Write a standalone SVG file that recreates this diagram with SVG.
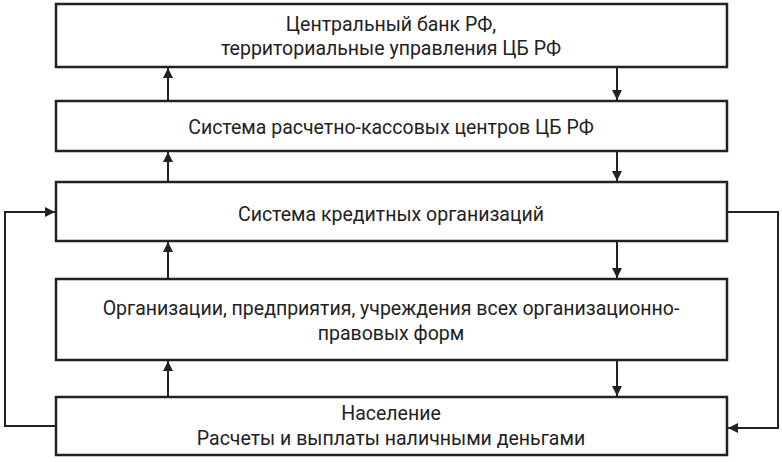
<svg xmlns="http://www.w3.org/2000/svg" width="782" height="462" viewBox="0 0 782 462">
<style>
rect{fill:#fff;stroke:#222;stroke-width:2.5}
.c path{fill:none;stroke:#222;stroke-width:2}
text{font-family:"Roboto","Liberation Sans",sans-serif;font-size:19.5px;fill:#222;text-anchor:middle}
</style>
<defs><marker id="a" viewBox="0 0 10 10" refX="10" refY="5" markerWidth="5" markerHeight="5" orient="auto-start-reverse" markerUnits="strokeWidth"><path d="M0,0 L10,5 L0,10 z" fill="#222"/></marker></defs>
<rect width="782" height="462" fill="#fff" stroke="none" style="stroke:none"/>
<g id="n1"><rect x="56" y="4" width="671" height="63"/><text x="391" y="31">Центральный банк РФ,</text><text x="391" y="55">территориальные управления ЦБ РФ</text></g>
<g id="n2"><rect x="56" y="101" width="671" height="50"/><text x="391" y="134">Система расчетно-кассовых центров ЦБ РФ</text></g>
<g id="n3"><rect x="56" y="182" width="671" height="59"/><text x="391" y="221">Система кредитных организаций</text></g>
<g id="n4"><rect x="56" y="279" width="671" height="81"/><text x="391" y="315">Организации, предприятия, учреждения всех организационно-</text><text x="391" y="340">правовых форм</text></g>
<g id="n5"><rect x="56" y="397" width="671" height="58"/><text x="391" y="420">Население</text><text x="391" y="445">Расчеты и выплаты наличными деньгами</text></g>
<g class="c">
<path d="M168,101 V68" marker-end="url(#a)"/>
<path d="M168,182 V152" marker-end="url(#a)"/>
<path d="M168,279 V242" marker-end="url(#a)"/>
<path d="M168,397 V361" marker-end="url(#a)"/>
<path d="M617,67 V100" marker-end="url(#a)"/>
<path d="M617,151 V181" marker-end="url(#a)"/>
<path d="M617,241 V278" marker-end="url(#a)"/>
<path d="M617,360 V396" marker-end="url(#a)"/>
<path d="M56,426 H5 V212 H55" marker-end="url(#a)"/>
<path d="M727,212 H778 V428 H728" marker-end="url(#a)"/>
</g>
</svg>
